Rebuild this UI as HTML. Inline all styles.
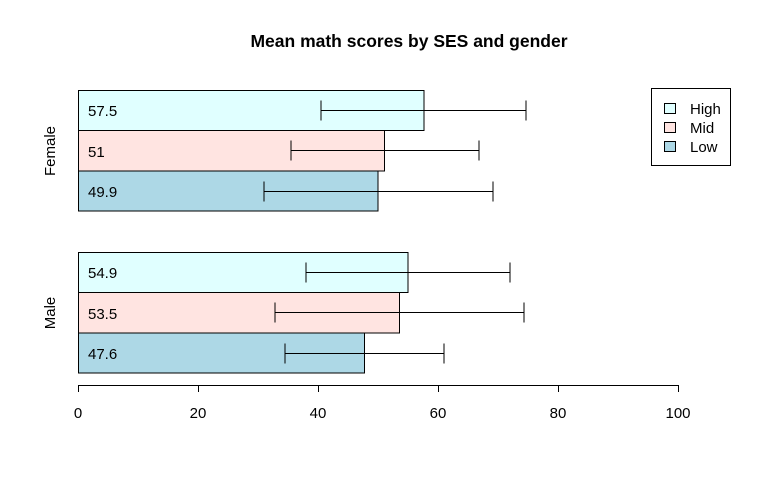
<!DOCTYPE html>
<html><head><style>body{margin:0;background:#fff}</style></head><body>
<svg width="780" height="483" xmlns="http://www.w3.org/2000/svg" font-family="Liberation Sans, Arial, sans-serif">
<rect width="780" height="483" fill="#fff"/>
<text x="409" y="47" text-anchor="middle" font-size="17.5" font-weight="bold">Mean math scores by SES and gender</text>
<g stroke="#000" stroke-width="1">
<rect x="78.5" y="90.5" width="345.5" height="40" fill="#E0FFFF"/>
<rect x="78.5" y="130.5" width="306" height="40.5" fill="#FFE4E1"/>
<rect x="78.5" y="171" width="299.5" height="40" fill="#ADD8E6"/>
<rect x="78.5" y="252.5" width="329.5" height="40" fill="#E0FFFF"/>
<rect x="78.5" y="292.5" width="321" height="40.5" fill="#FFE4E1"/>
<rect x="78.5" y="333" width="286" height="40" fill="#ADD8E6"/>
<path d="M321 110.5H526M321 100.5V120.5M526 100.5V120.5"/>
<path d="M291 150.5H479M291 140.5V160.5M479 140.5V160.5"/>
<path d="M264 191.5H493M264 181.5V201.5M493 181.5V201.5"/>
<path d="M306 272.5H510M306 262.5V282.5M510 262.5V282.5"/>
<path d="M275 312.5H524M275 302.5V322.5M524 302.5V322.5"/>
<path d="M285 353.5H444M285 343.5V363.5M444 343.5V363.5"/>
<path d="M78 385.5H679M78.5 385V392M198.5 385V392M318.5 385V392M438.5 385V392M558.5 385V392M678.5 385V392"/>
<rect x="651.5" y="88.5" width="79" height="77" fill="none"/>
<rect x="664.5" y="103.5" width="11" height="10" fill="#E0FFFF"/>
<rect x="664.5" y="122.5" width="11" height="10" fill="#FFE4E1"/>
<rect x="664.5" y="141.5" width="11" height="10" fill="#ADD8E6"/>
</g>
<g font-size="15">
<text x="88" y="116">57.5</text><text x="88" y="157">51</text><text x="88" y="197">49.9</text>
<text x="88" y="278">54.9</text><text x="88" y="319">53.5</text><text x="88" y="359">47.6</text>
</g>
<g font-size="15" text-anchor="middle">
<text x="78" y="418">0</text><text x="198" y="418">20</text><text x="318" y="418">40</text><text x="438" y="418">60</text><text x="558" y="418">80</text><text x="678" y="418">100</text>
<text transform="translate(55,151) rotate(-90)">Female</text>
<text transform="translate(55,313) rotate(-90)">Male</text>
</g>
<g font-size="15">
<text x="690" y="114">High</text><text x="690" y="133">Mid</text><text x="690" y="152">Low</text>
</g>
</svg>
</body></html>
